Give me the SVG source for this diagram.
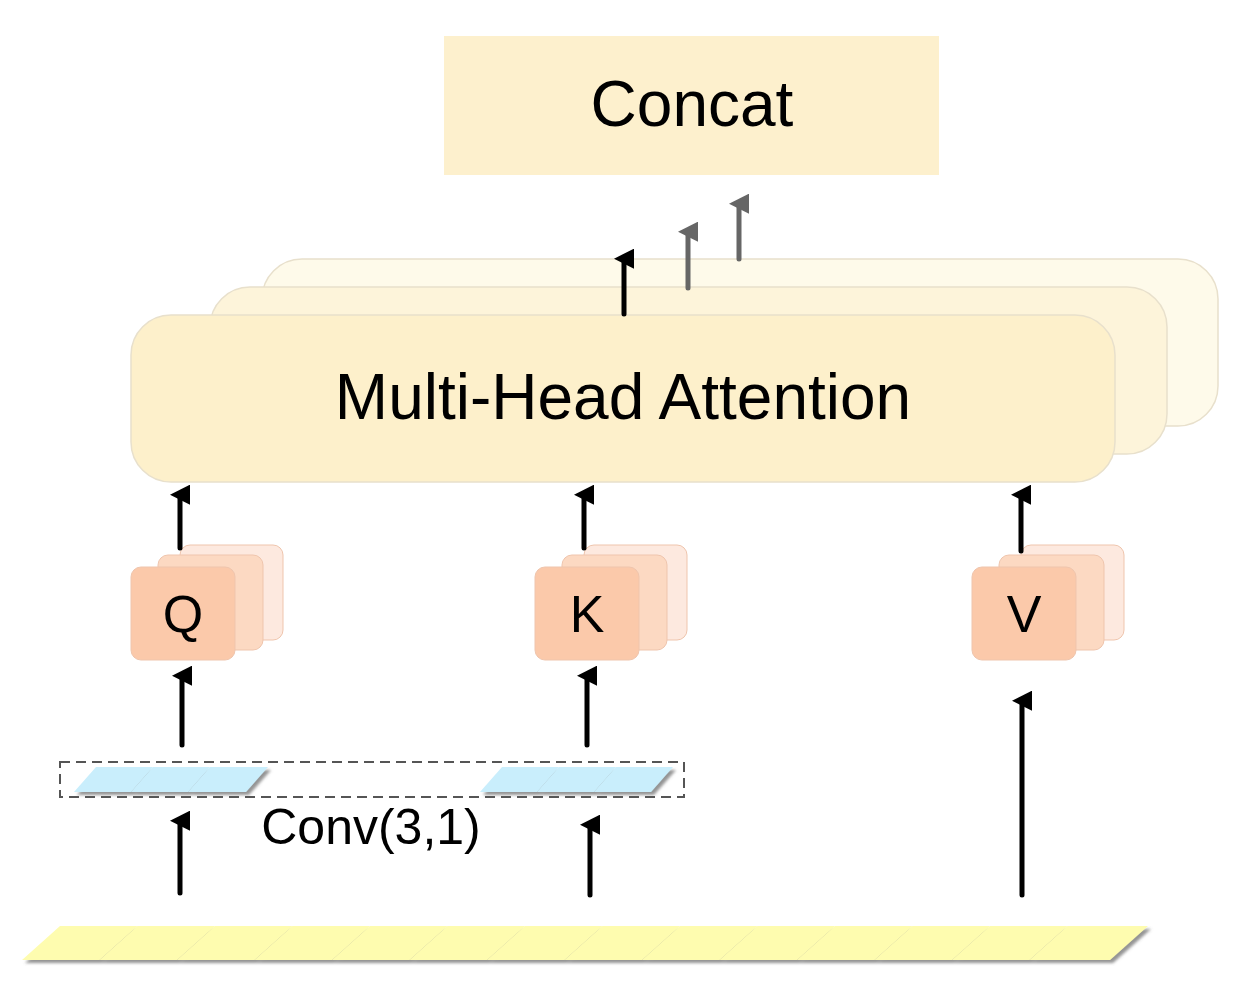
<svg xmlns="http://www.w3.org/2000/svg" width="1244" height="1008" viewBox="0 0 1244 1008">
<style>
text{font-family:"Liberation Sans",Arial,sans-serif;fill:#000}
.mha{stroke:#e8e0cc;stroke-width:1.5}
.qkv{stroke:#efc5ad;stroke-width:1}
.ar{stroke:#000;stroke-width:5;stroke-linecap:round;marker-end:url(#ah)}
.gr{stroke:#666;stroke-width:5;stroke-linecap:round;marker-end:url(#ahg)}
.y{fill:#fefcaf}
.b{fill:#c9eefc}
</style>
<defs>
<marker id="ah" markerWidth="4" markerHeight="5" refX="2" refY="3" orient="auto" markerUnits="strokeWidth" viewBox="0 0 6 6"><path d="M0,6 L3,0 L6,6 Z" fill="#000"/></marker>
<marker id="ahg" markerWidth="4" markerHeight="5" refX="2" refY="3" orient="auto" markerUnits="strokeWidth" viewBox="0 0 6 6"><path d="M0,6 L3,0 L6,6 Z" fill="#666"/></marker>
<filter id="sh" x="-5%" y="-20%" width="110%" height="150%"><feDropShadow dx="3" dy="3" stdDeviation="1.5" flood-color="#666" flood-opacity="0.7"/></filter>
</defs>
<g id="concat"><rect x="444" y="36" width="495" height="139" fill="#fdf0cd"/><text x="692" y="126" font-size="64" text-anchor="middle">Concat</text></g>
<g id="mha">
<rect class="mha" x="262" y="259" width="956" height="167" rx="40" fill="#fefaea"/>
<rect class="mha" x="210" y="287" width="957" height="167" rx="40" fill="#fdf4da"/>
<rect class="mha" x="131" y="315" width="984" height="167" rx="40" fill="#fdf0cb"/>
<text x="623" y="419" font-size="64" text-anchor="middle">Multi-Head Attention</text>
</g>
<g id="q">
<rect class="qkv" x="180" y="545" width="103" height="95" rx="10" fill="#fde9df"/>
<rect class="qkv" x="158" y="555" width="105" height="95" rx="10" fill="#fcd9c2"/>
<rect class="qkv" x="131" y="567" width="104" height="93" rx="10" fill="#fbc9aa"/>
<text x="183" y="632" font-size="52" text-anchor="middle">Q</text>
</g>
<g id="k">
<rect class="qkv" x="584" y="545" width="103" height="95" rx="10" fill="#fde9df"/>
<rect class="qkv" x="562" y="555" width="105" height="95" rx="10" fill="#fcd9c2"/>
<rect class="qkv" x="535" y="567" width="104" height="93" rx="10" fill="#fbc9aa"/>
<text x="587" y="632" font-size="52" text-anchor="middle">K</text>
</g>
<g id="v">
<rect class="qkv" x="1021" y="545" width="103" height="95" rx="10" fill="#fde9df"/>
<rect class="qkv" x="999" y="555" width="105" height="95" rx="10" fill="#fcd9c2"/>
<rect class="qkv" x="972" y="567" width="104" height="93" rx="10" fill="#fbc9aa"/>
<text x="1024" y="632" font-size="52" text-anchor="middle">V</text>
</g>
<g id="conv">
<rect x="60" y="762" width="624" height="35" fill="none" stroke="#555" stroke-width="2" stroke-dasharray="10,6"/>
<g filter="url(#sh)">
<path class="b" d="M96,767 L153,767 L131,792 L74,792 Z"/>
<path class="b" d="M153,767 L210,767 L188,792 L131,792 Z"/>
<path class="b" d="M210,767 L268,767 L246,792 L188,792 Z"/>
<path class="b" d="M502,767 L559,767 L537,792 L480,792 Z"/>
<path class="b" d="M559,767 L616,767 L594,792 L537,792 Z"/>
<path class="b" d="M616,767 L673,767 L651,792 L594,792 Z"/>
</g>
<text x="371" y="844" font-size="50" text-anchor="middle">Conv(3,1)</text>
</g>
<g id="input" filter="url(#sh)">
<path class="y" d="M60,926 L137.5,926 L99.5,960 L22,960 Z"/>
<path class="y" d="M137.5,926 L215,926 L177,960 L99.5,960 Z"/>
<path class="y" d="M215,926 L292.5,926 L254.5,960 L177,960 Z"/>
<path class="y" d="M292.5,926 L370,926 L332,960 L254.5,960 Z"/>
<path class="y" d="M370,926 L447.5,926 L409.5,960 L332,960 Z"/>
<path class="y" d="M447.5,926 L525,926 L487,960 L409.5,960 Z"/>
<path class="y" d="M525,926 L602.5,926 L564.5,960 L487,960 Z"/>
<path class="y" d="M602.5,926 L680,926 L642,960 L564.5,960 Z"/>
<path class="y" d="M680,926 L757.5,926 L719.5,960 L642,960 Z"/>
<path class="y" d="M757.5,926 L835,926 L797,960 L719.5,960 Z"/>
<path class="y" d="M835,926 L912.5,926 L874.5,960 L797,960 Z"/>
<path class="y" d="M912.5,926 L990,926 L952,960 L874.5,960 Z"/>
<path class="y" d="M990,926 L1067.5,926 L1029.5,960 L952,960 Z"/>
<path class="y" d="M1067.5,926 L1148,926 L1110,960 L1029.5,960 Z"/>
</g>
<g id="connectors">
<line class="ar" x1="180" y1="893" x2="180" y2="824"/>
<line class="ar" x1="590" y1="895" x2="590" y2="828"/>
<line class="ar" x1="1022" y1="895" x2="1022" y2="704"/>
<line class="ar" x1="182" y1="745" x2="182" y2="679"/>
<line class="ar" x1="587" y1="745" x2="587" y2="679"/>
<line class="ar" x1="180" y1="548" x2="180" y2="498"/>
<line class="ar" x1="584" y1="548" x2="584" y2="498"/>
<line class="ar" x1="1021" y1="551" x2="1021" y2="498"/>
<line class="ar" x1="624" y1="314" x2="624" y2="262"/>
<line class="gr" x1="688" y1="288" x2="688" y2="235"/>
<line class="gr" x1="739" y1="259" x2="739" y2="207"/>
</g>
</svg>
